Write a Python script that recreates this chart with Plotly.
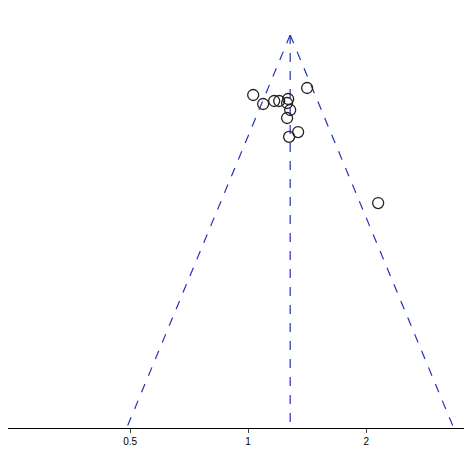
import numpy as np
import plotly.graph_objects as go

odds_ratio = [1.030, 1.092, 1.165, 1.200, 1.265, 1.257, 1.280, 1.257, 1.414, 1.341, 1.272, 2.146]
se_log_or = [0.0748, 0.0860, 0.0823, 0.0823, 0.0798, 0.0848, 0.0935, 0.1035, 0.0661, 0.121, 0.127, 0.2095]
pooled_or = 1.28
se_max = 0.49
tick_vals = [0.5, 1, 2]
tick_text = ["0.5", "1", "2"]

se_line = np.array([0.0, se_max])
lower = pooled_or * np.exp(-1.96 * se_line)
upper = pooled_or * np.exp(1.96 * se_line)

fig = go.Figure()
dash = dict(color="#2233bb", width=1.2, dash="dash")
fig.add_trace(go.Scatter(x=lower, y=se_line, mode="lines", line=dash))
fig.add_trace(go.Scatter(x=upper, y=se_line, mode="lines", line=dash))
fig.add_trace(go.Scatter(x=[pooled_or, pooled_or], y=[0, se_max], mode="lines", line=dash))
fig.add_trace(go.Scatter(x=odds_ratio, y=se_log_or, mode="markers",
                         marker=dict(symbol="circle-open", size=11, color="#222222", line=dict(width=1.3))))
fig.update_layout(
    width=464, height=464, showlegend=False,
    paper_bgcolor="white", plot_bgcolor="white",
    margin=dict(l=0, r=0, t=27, b=44),
    xaxis=dict(type="log", range=[-0.6126, 0.571], tickvals=tick_vals, ticktext=tick_text,
               showline=True, linecolor="black", ticks="outside", ticklen=4, showgrid=False,
               zeroline=False, tickfont=dict(family="Arial", size=10, color="black")),
    yaxis=dict(range=[se_max, 0], visible=False, showgrid=False),
    annotations=[dict(text="I)", x=0, y=1, xref="paper", yref="paper", xanchor="left",
                      yanchor="top", yshift=4, xshift=-8, showarrow=False,
                      font=dict(family="Arial", size=10, color="black"))],
)
fig.write_html("out.html")
